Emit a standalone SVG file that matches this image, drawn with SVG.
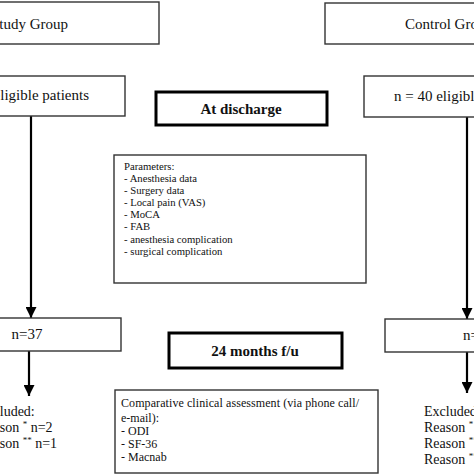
<svg xmlns="http://www.w3.org/2000/svg" width="474" height="474" viewBox="0 0 474 474">
<style>
.thin{fill:#fff;stroke:#333;stroke-width:1.4}
.thick{fill:#fff;stroke:#000;stroke-width:3}
.t{font-family:"Liberation Serif","Times New Roman",serif;fill:#111}
.big{font-size:15px}
.bold{font-size:15px;font-weight:bold;text-anchor:middle}
.sm{font-size:10.7px}
.md{font-size:12px}
.ex{font-size:14px}
.sup{font-size:9px}
.conn{stroke:#000;stroke-width:2.2;fill:none}
</style>
<defs>
<marker id="ah" markerUnits="userSpaceOnUse" markerWidth="11" markerHeight="11" refX="11" refY="5.5" orient="auto">
<path d="M0,0 L11,5.5 L0,11 z" fill="#000"/>
</marker>
</defs>
<rect width="474" height="474" fill="#fff"/>
<g id="connectors">
<line class="conn" x1="31" y1="116" x2="31" y2="318" marker-end="url(#ah)"/>
<line class="conn" x1="29" y1="351" x2="29" y2="396" marker-end="url(#ah)"/>
<line class="conn" x1="467" y1="117" x2="467" y2="319" marker-end="url(#ah)"/>
<line class="conn" x1="467" y1="352" x2="467" y2="393" marker-end="url(#ah)"/>
</g>
<g id="study-group">
<rect class="thin" x="-10" y="2" width="169" height="42"/>
<text class="t big" x="68" y="29" text-anchor="end">Study Group</text>
</g>
<g id="control-group">
<rect class="thin" x="325" y="3" width="160" height="41"/>
<text class="t big" x="405" y="29">Control Group</text>
</g>
<g id="study-eligible">
<rect class="thin" x="-10" y="76" width="135" height="40"/>
<text class="t big" x="89" y="100" text-anchor="end">eligible patients</text>
</g>
<g id="control-eligible">
<rect class="thin" x="364" y="76" width="120" height="41"/>
<text class="t big" x="394" y="101">n = 40 eligible patients</text>
</g>
<g id="at-discharge">
<rect class="thick" x="156" y="92" width="171" height="33"/>
<text class="t bold" x="241" y="114">At discharge</text>
</g>
<g id="parameters">
<rect class="thin" x="114" y="155" width="252" height="128"/>
<text class="t sm" x="124" y="170">Parameters:</text>
<text class="t sm" x="124" y="182">- Anesthesia data</text>
<text class="t sm" x="124" y="194">- Surgery data</text>
<text class="t sm" x="124" y="206">- Local pain (VAS)</text>
<text class="t sm" x="124" y="218">- MoCA</text>
<text class="t sm" x="124" y="230">- FAB</text>
<text class="t sm" x="124" y="243">- anesthesia complication</text>
<text class="t sm" x="124" y="255">- surgical complication</text>
</g>
<g id="study-n37">
<rect class="thin" x="-10" y="318" width="131" height="33"/>
<text class="t big" x="27" y="339" text-anchor="middle">n=37</text>
</g>
<g id="control-n">
<rect class="thin" x="385" y="319" width="100" height="33"/>
<text class="t big" x="463" y="340">n=</text>
</g>
<g id="months24">
<rect class="thick" x="169" y="333" width="173" height="35"/>
<text class="t bold" x="255" y="356">24 months f/u</text>
</g>
<g id="assessment">
<rect class="thin" x="115" y="390" width="263" height="83"/>
<text class="t md" x="121" y="407" textLength="238" lengthAdjust="spacing">Comparative clinical assessment (via phone call/</text>
<text class="t md" x="121" y="422">e-mail):</text>
<text class="t md" x="121" y="435">- ODI</text>
<text class="t md" x="121" y="448">- SF-36</text>
<text class="t md" x="121" y="461">- Macnab</text>
</g>
<g id="study-excluded">
<text class="t ex" x="-22" y="416">Excluded:</text>
<text class="t ex" x="-22" y="432">Reason <tspan class="sup" dy="-5">*</tspan><tspan dy="5"> n=2</tspan></text>
<text class="t ex" x="-22" y="448">Reason <tspan class="sup" dy="-5">**</tspan><tspan dy="5"> n=1</tspan></text>
</g>
<g id="control-excluded">
<text class="t ex" x="424" y="416">Excluded:</text>
<text class="t ex" x="424" y="432">Reason <tspan class="sup" dy="-5">*</tspan></text>
<text class="t ex" x="424" y="448">Reason <tspan class="sup" dy="-5">**</tspan></text>
<text class="t ex" x="424" y="464">Reason <tspan class="sup" dy="-5">***</tspan></text>
</g>
</svg>
